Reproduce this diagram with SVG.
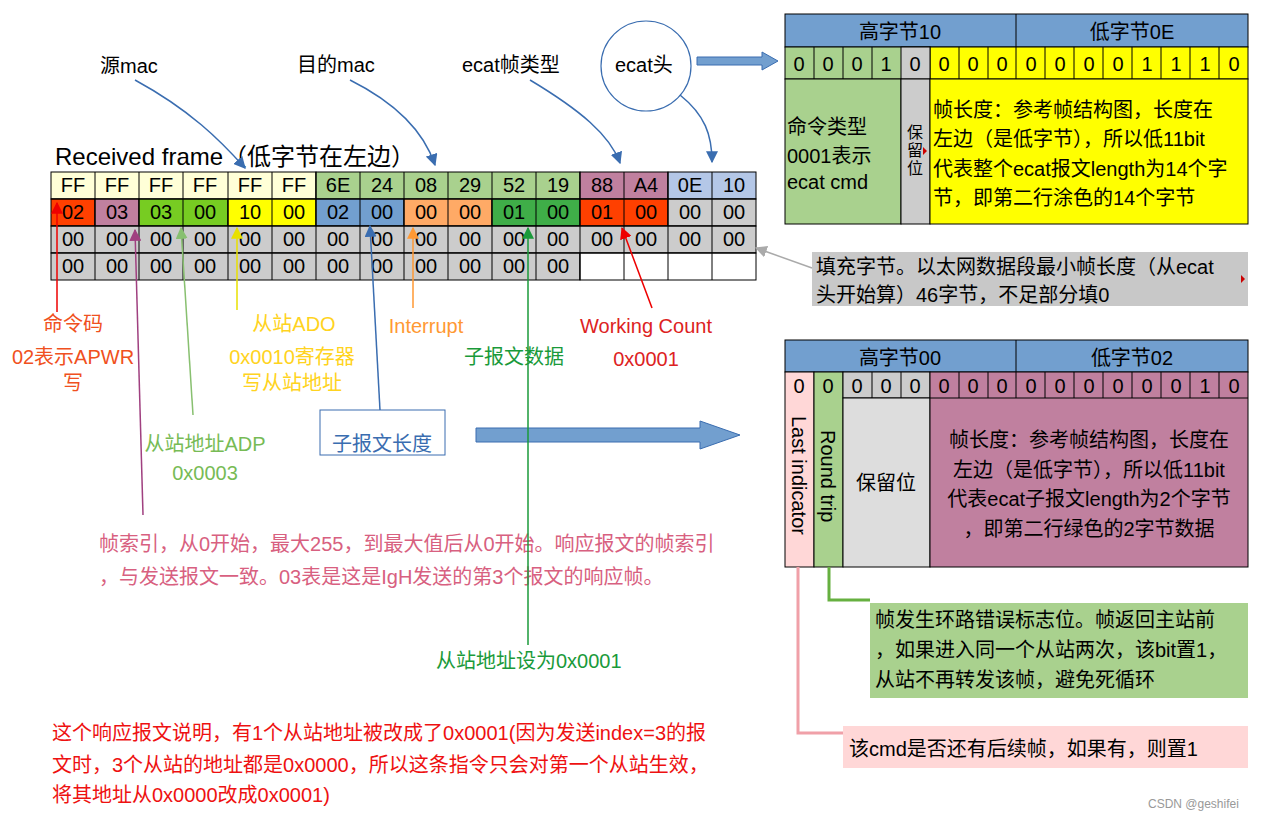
<svg xmlns="http://www.w3.org/2000/svg" width="1262" height="819" viewBox="0 0 1262 819">
<defs>
<style>
text{font-family:"Liberation Sans","Noto Sans CJK SC",sans-serif;font-size:20px;}
.c{text-anchor:middle}
.s{font-size:19px}
.cell{stroke:#000;stroke-width:1}
.ln{fill:none;stroke-width:1.5}
</style>
<marker id="mr" viewBox="0 0 10 10" markerWidth="12" markerHeight="12" refX="9" refY="5" orient="auto" markerUnits="userSpaceOnUse"><path d="M0,0 L10,5 L0,10 z" fill="#e00"/></marker>
<marker id="mm" viewBox="0 0 10 10" markerWidth="12" markerHeight="12" refX="9" refY="5" orient="auto" markerUnits="userSpaceOnUse"><path d="M0,0 L10,5 L0,10 z" fill="#a04080"/></marker>
<marker id="mg" viewBox="0 0 10 10" markerWidth="12" markerHeight="12" refX="9" refY="5" orient="auto" markerUnits="userSpaceOnUse"><path d="M0,0 L10,5 L0,10 z" fill="#88c070"/></marker>
<marker id="my" viewBox="0 0 10 10" markerWidth="12" markerHeight="12" refX="9" refY="5" orient="auto" markerUnits="userSpaceOnUse"><path d="M0,0 L10,5 L0,10 z" fill="#e8e000"/></marker>
<marker id="mb" viewBox="0 0 10 10" markerWidth="12" markerHeight="12" refX="9" refY="5" orient="auto" markerUnits="userSpaceOnUse"><path d="M0,0 L10,5 L0,10 z" fill="#3a6db0"/></marker>
<marker id="mo" viewBox="0 0 10 10" markerWidth="12" markerHeight="12" refX="9" refY="5" orient="auto" markerUnits="userSpaceOnUse"><path d="M0,0 L10,5 L0,10 z" fill="#ff9933"/></marker>
<marker id="md" viewBox="0 0 10 10" markerWidth="12" markerHeight="12" refX="9" refY="5" orient="auto" markerUnits="userSpaceOnUse"><path d="M0,0 L10,5 L0,10 z" fill="#1a9a3a"/></marker>
<marker id="mgr" viewBox="0 0 10 10" markerWidth="12" markerHeight="12" refX="9" refY="5" orient="auto" markerUnits="userSpaceOnUse"><path d="M0,0 L10,5 L0,10 z" fill="#aaa"/></marker>
</defs>
<rect width="1262" height="819" fill="#fff"/>

<g id="frame">
<text x="55" y="165" style="font-size:24px">Received frame（低字节在左边）</text>
<g class="cell">
<rect x="51" y="172" width="265" height="27" fill="#ffffd7"/>
<rect x="316" y="172" width="264" height="27" fill="#a9d18e"/>
<rect x="580" y="172" width="88" height="27" fill="#c0809f"/>
<rect x="668" y="172" width="88" height="27" fill="#b4c7e7"/>
<rect x="51" y="199" width="44" height="27" fill="#ff4000"/>
<rect x="95" y="199" width="44" height="27" fill="#c0809f"/>
<rect x="139" y="199" width="89" height="27" fill="#77cc22"/>
<rect x="228" y="199" width="88" height="27" fill="#ffff00"/>
<rect x="316" y="199" width="88" height="27" fill="#729fcf"/>
<rect x="404" y="199" width="88" height="27" fill="#ffaa66"/>
<rect x="492" y="199" width="88" height="27" fill="#3fae48"/>
<rect x="580" y="199" width="88" height="27" fill="#ff4000"/>
<rect x="668" y="199" width="88" height="27" fill="#cccccc"/>
<rect x="51" y="226" width="705" height="27" fill="#cccccc"/>
<rect x="51" y="253" width="529" height="27" fill="#cccccc"/>
<rect x="580" y="253" width="176" height="27" fill="#fff"/>
<path d="M95,172V280M139,172V280M183,172V280M228,172V280M272,172V280M316,172V280M360,172V280M404,172V280M448,172V280M492,172V280M536,172V280M580,172V280M624,172V280M668,172V280M712,172V280M51,199H756M51,226H756M51,253H756" fill="none"/>
</g>
<g class="c s">
<text x="73" y="192">FF</text><text x="117" y="192">FF</text><text x="161" y="192">FF</text><text x="205" y="192">FF</text><text x="250" y="192">FF</text><text x="294" y="192">FF</text><text x="338" y="192">6E</text><text x="382" y="192">24</text><text x="426" y="192">08</text><text x="470" y="192">29</text><text x="514" y="192">52</text><text x="558" y="192">19</text><text x="602" y="192">88</text><text x="646" y="192">A4</text><text x="690" y="192">0E</text><text x="734" y="192">10</text>
<text x="73" y="219">02</text><text x="117" y="219">03</text><text x="161" y="219">03</text><text x="205" y="219">00</text><text x="250" y="219">10</text><text x="294" y="219">00</text><text x="338" y="219">02</text><text x="382" y="219">00</text><text x="426" y="219">00</text><text x="470" y="219">00</text><text x="514" y="219">01</text><text x="558" y="219">00</text><text x="602" y="219">01</text><text x="646" y="219">00</text><text x="690" y="219">00</text><text x="734" y="219">00</text>
<text x="73" y="246">00</text><text x="117" y="246">00</text><text x="161" y="246">00</text><text x="205" y="246">00</text><text x="250" y="246">00</text><text x="294" y="246">00</text><text x="338" y="246">00</text><text x="382" y="246">00</text><text x="426" y="246">00</text><text x="470" y="246">00</text><text x="514" y="246">00</text><text x="558" y="246">00</text><text x="602" y="246">00</text><text x="646" y="246">00</text><text x="690" y="246">00</text><text x="734" y="246">00</text>
<text x="73" y="273">00</text><text x="117" y="273">00</text><text x="161" y="273">00</text><text x="205" y="273">00</text><text x="250" y="273">00</text><text x="294" y="273">00</text><text x="338" y="273">00</text><text x="382" y="273">00</text><text x="426" y="273">00</text><text x="470" y="273">00</text><text x="514" y="273">00</text><text x="558" y="273">00</text>
</g>
</g>

<g id="header-table">
<g class="cell">
<rect x="785" y="14" width="463" height="33" fill="#729fcf"/>
<rect x="785" y="47" width="145" height="32" fill="#a9d18e"/>
<rect x="930" y="47" width="318" height="32" fill="#ffff00"/>
<rect x="901" y="47" width="29" height="32" fill="#cccccc"/>
<rect x="785" y="79" width="116" height="145" fill="#a9d18e"/>
<rect x="901" y="79" width="29" height="145" fill="#cccccc"/>
<rect x="930" y="79" width="318" height="145" fill="#ffff00"/>
<path d="M1016,14V79M814,47V79M843,47V79M872,47V79M959,47V79M988,47V79M1045,47V79M1074,47V79M1103,47V79M1132,47V79M1161,47V79M1190,47V79M1219,47V79" fill="none"/>
</g>
<text class="c" x="900" y="39">高字节10</text><text class="c" x="1132" y="39">低字节0E</text>
<g class="c"><text x="799" y="71">0</text><text x="828" y="71">0</text><text x="857" y="71">0</text><text x="886" y="71">1</text><text x="915" y="71">0</text><text x="944" y="71">0</text><text x="973" y="71">0</text><text x="1002" y="71">0</text><text x="1031" y="71">0</text><text x="1060" y="71">0</text><text x="1089" y="71">0</text><text x="1118" y="71">0</text><text x="1147" y="71">1</text><text x="1176" y="71">1</text><text x="1205" y="71">1</text><text x="1234" y="71">0</text></g>
<text x="787" y="134">命令类型</text><text x="787" y="163">0001表示</text><text x="787" y="189">ecat cmd</text>
<text class="c" x="915" y="138" style="font-size:16px">保</text><text class="c" x="915" y="156" style="font-size:16px">留</text><text class="c" x="915" y="174" style="font-size:16px">位</text>
<path d="M923,147l4,4l-4,4z" fill="#c00"/>
<text x="933" y="117">帧长度：参考帧结构图，长度在</text>
<text x="933" y="146">左边（是低字节），所以低11bit</text>
<text x="933" y="176">代表整个ecat报文length为14个字</text>
<text x="933" y="205">节，即第二行涂色的14个字节</text>
</g>

<g id="sub-table">
<g class="cell">
<rect x="785" y="340" width="463" height="32" fill="#729fcf"/>
<rect x="785" y="372" width="29" height="195" fill="#ffd7d7"/>
<rect x="814" y="372" width="29" height="195" fill="#a9d18e"/>
<rect x="843" y="372" width="87" height="26" fill="#cccccc"/>
<rect x="843" y="398" width="87" height="169" fill="#dddddd"/>
<rect x="930" y="372" width="318" height="195" fill="#c0809f"/>
<path d="M1016,340V398M872,372V398M901,372V398M959,372V398M988,372V398M1045,372V398M1074,372V398M1103,372V398M1132,372V398M1161,372V398M1190,372V398M1219,372V398M930,398H1248" fill="none"/>
</g>
<text class="c" x="900" y="365">高字节00</text><text class="c" x="1132" y="365">低字节02</text>
<g class="c"><text x="799" y="393">0</text><text x="828" y="393">0</text><text x="857" y="393">0</text><text x="886" y="393">0</text><text x="915" y="393">0</text><text x="944" y="393">0</text><text x="973" y="393">0</text><text x="1002" y="393">0</text><text x="1031" y="393">0</text><text x="1060" y="393">0</text><text x="1089" y="393">0</text><text x="1118" y="393">0</text><text x="1147" y="393">0</text><text x="1176" y="393">0</text><text x="1205" y="393">1</text><text x="1234" y="393">0</text></g>
<text transform="translate(792,416) rotate(90)">Last indicator</text>
<text transform="translate(821,430) rotate(90)">Round  trip</text>
<text class="c" x="886" y="490">保留位</text>
<g class="c"><text x="1089" y="447">帧长度：参考帧结构图，长度在</text><text x="1089" y="477">左边（是低字节），所以低11bit</text><text x="1089" y="506">代表ecat子报文length为2个字节</text><text x="1089" y="536">，即第二行绿色的2字节数据</text></g>
</g>

<g id="labels">
<text x="100" y="73">源mac</text>
<text x="297" y="72">目的mac</text>
<text x="462" y="72">ecat帧类型</text>
<circle cx="646" cy="66" r="45" fill="none" stroke="#3a6db0" stroke-width="1.2"/>
<text x="615" y="72">ecat头</text>
<g fill="#f05020"><text class="c" x="73" y="331">命令码</text><text class="c" x="73" y="364">02表示APWR</text><text class="c" x="73" y="390">写</text></g>
<g fill="#ffd320"><text class="c" x="294" y="331">从站ADO</text><text class="c" x="292" y="364">0x0010寄存器</text><text class="c" x="292" y="390">写从站地址</text></g>
<text class="c" x="426" y="333" fill="#ff9933">Interrupt</text>
<g fill="#dd2222"><text class="c" x="646" y="333">Working Count</text><text class="c" x="646" y="366">0x0001</text></g>
<text class="c" x="514" y="364" fill="#1a9a3a">子报文数据</text>
<g fill="#77bb55"><text class="c" x="205" y="451">从站地址ADP</text><text class="c" x="205" y="480">0x0003</text></g>
<rect x="320" y="410" width="125" height="45" fill="#fff" stroke="#3a6db0"/>
<text class="c" x="382" y="451" fill="#3a6db0">子报文长度</text>
<g fill="#d86080"><text x="99" y="551">帧索引，从0开始，最大255，到最大值后从0开始。响应报文的帧索引</text><text x="99" y="584">，与发送报文一致。03表是这是IgH发送的第3个报文的响应帧。</text></g>
<text x="436" y="668" fill="#1a9a3a">从站地址设为0x0001</text>
<g fill="#ee1111"><text x="52" y="740">这个响应报文说明，有1个从站地址被改成了0x0001(因为发送index=3的报</text><text x="52" y="772">文时，3个从站的地址都是0x0000，所以这条指令只会对第一个从站生效，</text><text x="52" y="802">将其地址从0x0000改成0x0001)</text></g>
<rect x="812" y="252" width="436" height="54" fill="#c8c8c8"/>
<text x="816" y="274">填充字节。以太网数据段最小帧长度（从ecat</text>
<text x="816" y="302">头开始算）46字节，不足部分填0</text>
<path d="M1241,275l4,4l-4,4z" fill="#c00"/>
<rect x="870" y="603" width="378" height="95" fill="#a9d18e"/>
<text x="875" y="627">帧发生环路错误标志位。帧返回主站前</text>
<text x="875" y="657">，如果进入同一个从站两次，该bit置1，</text>
<text x="875" y="687">从站不再转发该帧，避免死循环</text>
<rect x="843" y="726" width="405" height="42" fill="#ffd7d7"/>
<text x="849" y="756">该cmd是否还有后续帧，如果有，则置1</text>
<text x="1148" y="808" fill="#999" style="font-size:12px">CSDN @geshifei</text>
</g>

<g id="connectors">
<path class="ln" stroke="#3a6db0" d="M135,80 C190,110 220,140 245,168" marker-end="url(#mb)"/>
<path class="ln" stroke="#3a6db0" d="M350,80 C400,105 425,135 435,165" marker-end="url(#mb)"/>
<path class="ln" stroke="#3a6db0" d="M530,80 C580,110 610,135 620,163" marker-end="url(#mb)"/>
<path class="ln" stroke="#3a6db0" d="M680,95 C705,115 712,135 712,162" marker-end="url(#mb)"/>
<path d="M697,57 H762 V52 L778,61 L762,70 V65 H697 z" fill="#729fcf" stroke="#3a6db0"/>
<path d="M476,428 H700 V421 L740,435 L700,449 V442 H476 z" fill="#729fcf" stroke="#3a6db0"/>
<path class="ln" stroke="#e00" d="M57,312 V203" marker-end="url(#mr)"/>
<path class="ln" stroke="#a04080" d="M143,515 L135,230" marker-end="url(#mm)"/>
<path class="ln" stroke="#88c070" d="M193,415 L181,228" marker-end="url(#mg)"/>
<path class="ln" stroke="#e8e000" d="M237,310 V228" marker-end="url(#my)"/>
<path class="ln" stroke="#3a6db0" d="M380,410 L370,226" marker-end="url(#mb)"/>
<path class="ln" stroke="#ff9933" d="M413,308 V228" marker-end="url(#mo)"/>
<path class="ln" stroke="#1a9a3a" d="M528,645 V228" marker-end="url(#md)"/>
<path class="ln" stroke="#e00" d="M652,308 L622,228" marker-end="url(#mr)"/>
<path class="ln" stroke="#aaa" d="M812,268 L756,248" marker-end="url(#mgr)"/>
<path fill="none" stroke="#66b040" stroke-width="3" d="M829,567 V600 H870"/>
<path fill="none" stroke="#f0a0a8" stroke-width="3" d="M798,567 V733 H843"/>
</g>
</svg>
